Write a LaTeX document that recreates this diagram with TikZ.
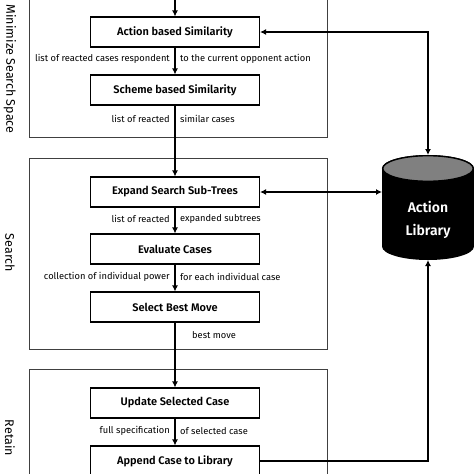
\documentclass[tikz,border=0pt]{standalone}
\usepackage{fontspec}
\setmainfont[BoldFont={Fira Sans SemiBold}]{Fira Sans}
\usetikzlibrary{arrows.meta}
\begin{document}
\begin{tikzpicture}[x=1pt,y=-1pt,
    box/.style={rectangle, draw, line width=1.1pt, minimum width=169pt, minimum height=30pt, inner sep=0pt, font=\fontsize{11}{12}\selectfont\bfseries},
    frame/.style={rectangle, draw=black!75, line width=0.8pt, minimum width=298pt, inner sep=0pt},
    lbl/.style={inner sep=0pt, font=\fontsize{9.3}{10}\selectfont},
    side/.style={rotate=-90, inner sep=0pt, font=\fontsize{12.5}{13}\selectfont},
    library/.style={rectangle, minimum width=92pt, minimum height=105pt, inner sep=0pt, outer sep=0pt},
    libtext/.style={text=white, align=center, yshift=-12pt, font=\fontsize{14}{23}\selectfont\bfseries},
    arrow/.style={line width=1.6pt, -{Latex[length=6pt,width=6pt]}},
    dblarrow/.style={line width=1.6pt, {Latex[length=6pt,width=6pt]}-{Latex[length=6pt,width=6pt]}}
]
\useasboundingbox (0,0) rectangle (474,474);

% Frames
\node[frame, minimum height=177pt] (fmin) at (178,48.5) {};
\node[frame, minimum height=191pt] (fsearch) at (178,253.5) {};
\node[frame, minimum height=151pt] (fretain) at (178,444.5) {};
\node[side] (sidemin) at (10,69) {Minimize Search Space};
\node[side] (sidesearch) at (10,253) {Search};
\node[side] (sideretain) at (10,438) {Retain};

% Minimize Search Space
\node[box] (act) at (175,32) {Action based Similarity};
\node[box] (scheme) at (175,90) {Scheme based Similarity};

% Search
\node[box] (expand) at (175,192) {Expand Search Sub-Trees};
\node[box] (evaluate) at (175,249) {Evaluate Cases};
\node[box] (select) at (175,307) {Select Best Move};

% Retain
\node[box] (update) at (175,403) {Update Selected Case};
\node[box] (append) at (175,461) {Append Case to Library};

% Library (cylinder)
\node[library] (lib) at (428,207.5) {};
\fill[black] ([yshift=-13.5pt]lib.north west) -- ([yshift=13.5pt]lib.south west)
    arc[start angle=180, end angle=360, x radius=46pt, y radius=13.5pt]
    -- ([yshift=-13.5pt]lib.north east)
    arc[start angle=0, end angle=180, x radius=46pt, y radius=13.5pt] -- cycle;
\filldraw[fill=black!50, draw=black, line width=1.4pt] ([yshift=-13.5pt]lib.north) ellipse [x radius=45.3pt, y radius=12.8pt];
\node[libtext] (libname) at (lib) {Action\\Library};

% Labels
\node[lbl, anchor=east] (l1a) at (170,59) {list of reacted cases respondent};
\node[lbl, anchor=west] (l1b) at (180,59) {to the current opponent action};
\node[lbl, anchor=east] (l2a) at (170,119) {list of reacted};
\node[lbl, anchor=west] (l2b) at (180,119) {similar cases};
\node[lbl, anchor=east] (l3a) at (170,219) {list of reacted};
\node[lbl, anchor=west] (l3b) at (180,219) {expanded subtrees};
\node[lbl, anchor=east] (l4a) at (170,277) {collection of individual power};
\node[lbl, anchor=west] (l4b) at (180,277) {for each individual case};
\node[lbl, anchor=west] (l5) at (192,335) {best move};
\node[lbl, anchor=east] (l6a) at (170,431) {full specification};
\node[lbl, anchor=west] (l6b) at (180,431) {of selected case};

% Arrows
\coordinate (entry) at (175,-5);
\draw[arrow] (entry) -- (act);
\draw[arrow] (act) -- (scheme);
\draw[arrow] (scheme) -- (expand);
\draw[arrow] (expand) -- (evaluate);
\draw[arrow] (evaluate) -- (select);
\draw[arrow] (select) -- (update);
\draw[arrow] (update) -- (append);
\draw[dblarrow] (act.east) -| (lib.north);
\draw[dblarrow] (expand.east) -- (expand.east -| lib.west);
\draw[arrow] (append.east) -| (lib.south);

\end{tikzpicture}
\end{document}
